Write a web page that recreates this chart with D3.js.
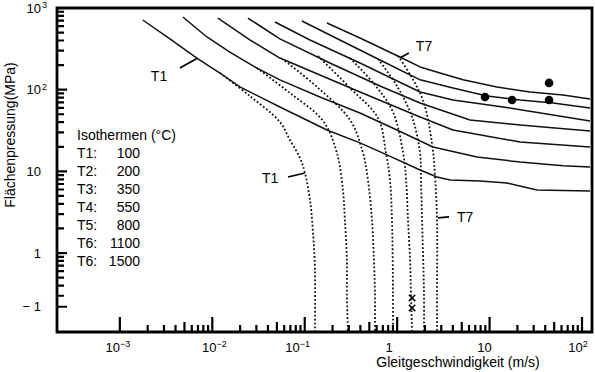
<!DOCTYPE html>
<html><head><meta charset="utf-8">
<script src="https://cdn.jsdelivr.net/npm/d3@7"></script>
<style>
html,body{margin:0;padding:0;background:#fff;}
svg{display:block;font-family:"Liberation Sans",Arial,Helvetica,sans-serif;color:#000;}
</style></head><body>
<svg id="c" width="595" height="372"></svg>
<script>
// ---------- data (speed m/s, pressure MPa) ----------
const solidT1 = [[0.00177,713],[0.00348,418],[0.00681,244],[0.0121,160],[0.0199,108],[0.0539,61.4],[0.174,32.1],[0.396,22.3],[0.776,15.9],[1.77,10.4],[2.70,8.54],[3.73,7.85],[7.88,7.63],[15.4,7.21],[32.6,5.92],[122,5.76]];
const solidT2 = [[0.00481,776],[0.00874,442],[0.0155,289],[0.0304,184],[0.0539,132],[0.146,81.4],[0.396,51.9],[0.995,32.1],[2.44,19.9],[7.31,15.0],[21.4,13.0],[62.3,11.7],[122,11.3]];
const solidT3 = [[0.0115,754],[0.0255,406],[0.0539,244],[0.146,151],[0.396,93.7],[1.77,46.3],[4.02,32.1],[21.4,22.9],[122,19.9]];
const solidT4 = [[0.0243,754],[0.0539,418],[0.187,212],[0.652,111],[1.77,68.8],[6.14,42.6],[21.4,37.0],[122,31.2]];
const solidT5 = [[0.0476,674],[0.114,406],[0.396,212],[1.77,93.7],[4.02,74.8],[14.0,61.4],[48.6,49.0],[122,41.4]];
const solidT6 = [[0.0933,693],[0.240,406],[0.652,231],[1.77,132],[4.02,105],[9.38,83.8],[21.4,74.8],[48.6,68.8],[122,59.7]];
const solidT7 = [[0.174,655],[0.396,429],[1.07,251],[1.77,190],[2.91,160],[5.16,132],[12.0,108],[27.4,93.7],[62.3,86.1],[122,76.9]];

const dottedT1 = [[0.0121,160],[0.0255,83.8],[0.0539,40.2],[0.0692,24.2],[0.0887,14.6],[0.100,9.83],[0.114,4.47],[0.123,1.76],[0.129,0.621],[0.129,0.108]];
const dottedT2 = [[0.0304,184],[0.0692,91.1],[0.158,41.4],[0.223,16.8],[0.259,5.92],[0.272,2.54],[0.286,0.823],[0.286,0.325],[0.294,0.108]];
const dottedT3 = [[0.0610,225],[0.136,108],[0.309,42.6],[0.427,16.8],[0.483,7.85],[0.534,2.54],[0.561,0.823],[0.575,0.325],[0.575,0.108]];
const dottedT4 = [[0.139,259],[0.309,105],[0.620,45.0],[0.757,16.8],[0.836,7.85],[0.879,2.54],[0.901,0.325],[0.901,0.108]];
const dottedT5 = [[0.309,244],[0.575,114],[0.901,53.3],[1.16,16.8],[1.25,7.85],[1.31,2.54],[1.38,0.823],[1.41,0.325],[1.45,0.108]];
const dottedT6 = [[0.620,238],[0.995,111],[1.45,46.3],[1.77,16.8],[1.81,7.85],[1.86,2.54],[1.95,0.325],[1.95,0.108]];
const dottedT7 = [[1.02,259],[1.41,147],[1.90,74.8],[2.38,22.3],[2.57,8.54],[2.70,2.54],[2.70,0.325],[2.70,0.108]];

const measuredDots = [[8.92,81.4],[17.5,74.8],[44.0,121],[44.0,74.8]];
const measuredCrosses = [[1.45,0.282],[1.45,0.213]];

const isoKeys = ["T1:","T2:","T3:","T4:","T5:","T6:","T6:"];
const isoTemps = [100,200,350,550,800,1100,1500];

const xTickValues = [1e-3,1e-2,1e-1,1,10,100];
const xTickBase = ["10","10","10","1","10","10"];
const xTickSup = ["\u22123","\u22122","\u22121","","","2"];
const yTickValues = [1000,100,10,1,0.22];
const yTickBase = ["10","10","10","1","\u2212 1"];
const yTickSup = ["3","2","","",""];

const curveLabels = ["T1","T1","T7","T7"];
const curveLabelAnchors = [[0.00698,244],[0.1005,9.56],[1.07,244],[2.77,2.69]];

// ---------- drawing ----------
const svg = d3.select("#c");
svg.append("rect").attr("width",595).attr("height",372).attr("fill","#fff");

const x = d3.scaleLog().domain([Math.pow(10,-3.68), Math.pow(10,2.108)]).range([57,592]);
const y = d3.scaleLog().domain([0.108,1000]).range([332,8]);
const X0 = x.range()[0], X1 = x.range()[1], Y0 = y.range()[0], Y1 = y.range()[1];

const isDecade = t => Math.abs(Math.log10(t) - Math.round(Math.log10(t))) < 1e-6;
const mant = t => Math.round(t / Math.pow(10, Math.floor(Math.log10(t) + 1e-9)));

const solidLine = d3.line().x(d => x(d[0])).y(d => y(d[1]));
const dotLine = d3.line().x(d => x(d[0])).y(d => y(d[1])).curve(d3.curveCatmullRom.alpha(0.5));

const plot = svg.append("g");
[dottedT1,dottedT2,dottedT3,dottedT4,dottedT5,dottedT6,dottedT7].forEach(s => {
  plot.append("path").attr("d", dotLine(s)).attr("fill","none")
    .attr("stroke","#111").attr("stroke-width",1.8).attr("stroke-dasharray","1.8 2.1");
});
[solidT1,solidT2,solidT3,solidT4,solidT5,solidT6,solidT7].forEach(s => {
  plot.append("path").attr("d", solidLine(s)).attr("fill","none")
    .attr("stroke","#111").attr("stroke-width",1.5).attr("stroke-linejoin","round");
});

plot.selectAll("circle.m").data(measuredDots).join("circle").attr("class","m")
  .attr("cx", d => x(d[0])).attr("cy", d => y(d[1])).attr("r",4.3).attr("fill","#000");
measuredCrosses.forEach(d => {
  const cx = x(d[0]), cy = y(d[1]), s = 3.2;
  plot.append("path").attr("d",`M${cx-s},${cy-s}L${cx+s},${cy+s}M${cx-s},${cy+s}L${cx+s},${cy-s}`)
    .attr("stroke","#000").attr("stroke-width",1.5);
});

// curve labels with pointers
const lblOff = [[-47,23,-18,10],[-43,10,-17,4],[16,-7,9,-5],[19,4,11,-1]];
curveLabels.forEach((t,i) => {
  const ax = x(curveLabelAnchors[i][0]), ay = y(curveLabelAnchors[i][1]);
  const o = lblOff[i];
  svg.append("line").attr("x1",ax).attr("y1",ay).attr("x2",ax+o[2]).attr("y2",ay+o[3])
    .attr("stroke","#000").attr("stroke-width",1.7);
  svg.append("text").attr("x",ax+o[0]).attr("y",ay+o[1]).attr("font-size",14).text(t);
});

// ---- axes (frame + inward ticks) ----
const axes = svg.append("g");
const xMinorVals = x.ticks().filter(t => t >= 1e-3 && t <= 100 && !isDecade(t));
const yMinorVals = y.ticks().filter(t => t >= 0.3 && !isDecade(t));

let tickPath = "";
xTickValues.concat(xMinorVals).forEach(d => {
  const len = isDecade(d) ? 15 : (mant(d) === 5 ? 10 : 7);
  tickPath += `M${x(d)},${Y0}V${Y0 - len}`;
});
yTickValues.concat(yMinorVals).forEach((d,i) => {
  const len = i < yTickValues.length ? 10 : 7;
  tickPath += `M${X0},${y(d)}H${X0 + len}`;
});
axes.append("path").attr("d", tickPath).attr("fill","none").attr("stroke","#000").attr("stroke-width",2.2);

// frame
const frame = `M${X0},${Y1}H${X1}V${Y0}H${X0}Z`;
axes.append("path").attr("d", frame).attr("fill","none").attr("stroke","#000").attr("stroke-width",2.8);

// x tick labels
const xShift = [-2,2,-7,-8,-5,-4];
xTickValues.forEach((v,i) => {
  const t = svg.append("text").attr("x", x(v) + xShift[i]).attr("y",352)
    .attr("text-anchor","middle").attr("font-size",13);
  t.append("tspan").text(xTickBase[i]);
  if (xTickSup[i]) t.append("tspan").attr("dy",-5).attr("font-size",9).text(xTickSup[i]);
});
// y tick labels
yTickValues.forEach((v,i) => {
  const yy = y(v);
  svg.append("text").attr("x",41).attr("y",yy+4.5).attr("text-anchor","end").attr("font-size",13).text(yTickBase[i]);
  if (yTickSup[i]) svg.append("text").attr("x",42).attr("y",yy).attr("font-size",9).text(yTickSup[i]);
});

// axis titles
svg.append("text").attr("x",458).attr("y",367).attr("text-anchor","middle").attr("font-size",14)
  .text("Gleitgeschwindigkeit (m/s)");
svg.append("text").attr("transform","translate(15,135) rotate(-90)").attr("text-anchor","middle")
  .attr("font-size",14).text("Flächenpressung(MPa)");

// legend block
svg.append("text").attr("x",77).attr("y",140).attr("font-size",14).text("Isothermen (°C)");
isoKeys.forEach((k,i) => {
  const yy = 158 + 18*i;
  svg.append("text").attr("x",77).attr("y",yy).attr("font-size",14).text(k);
  svg.append("text").attr("x",140).attr("y",yy).attr("text-anchor","end").attr("font-size",14).text(isoTemps[i]);
});
</script>
</body></html>
